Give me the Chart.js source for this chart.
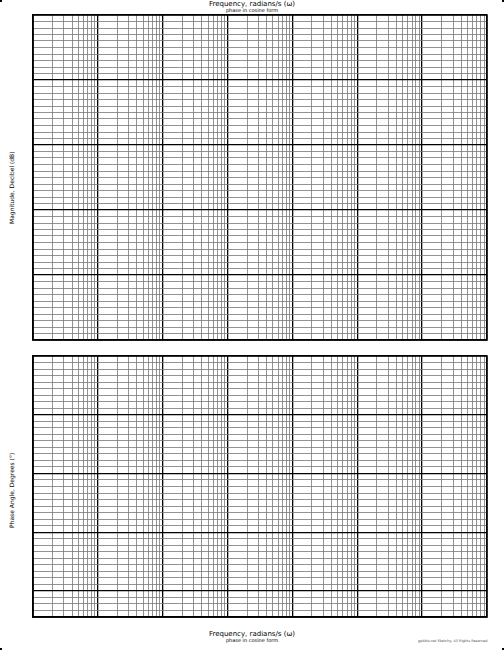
<!DOCTYPE html>
<html><head><meta charset="utf-8">
<script src="https://cdn.jsdelivr.net/npm/chart.js@4/dist/chart.umd.min.js"></script>
<style>
body{margin:0;width:504px;height:650px;position:relative;background:#fff;font-family:"DejaVu Sans",sans-serif;overflow:hidden}
canvas{position:absolute;left:0}
.t{position:absolute;width:100%;text-align:center;color:#000}
.t1{font-size:7px}.t2{font-size:5px}
.v{position:absolute;font-size:6px;transform:rotate(-90deg);transform-origin:left top;white-space:nowrap}
</style></head><body>
<div class="t t1" style="top:0px">Frequency, radians/s (ω)</div>
<div class="t t2" style="top:7px">phase in cosine form</div>
<div class="t t1" style="top:630px">Frequency, radians/s (ω)</div>
<div class="t t2" style="top:637px">phase in cosine form</div>
<div class="v" style="left:8px;top:224px">Magnitude, Decibel (dB)</div>
<div class="v" style="left:8px;top:528px">Phase Angle, Degrees (°)</div>
<div style="position:absolute;left:418px;top:639px;font-size:3.5px;color:#555">gpkbls.net Sketchy, All Rights Reserved</div>
<div style="position:absolute;left:0;top:0;width:2px;height:2px;background:#000"></div>
<div style="position:absolute;right:0;top:0;width:2px;height:2px;background:#000"></div>
<div style="position:absolute;left:0;bottom:0;width:2px;height:2px;background:#000"></div>
<div style="position:absolute;right:0;bottom:0;width:2px;height:2px;background:#000"></div>
<canvas id="mag" style="top:0"></canvas>
<canvas id="phase" style="top:348px"></canvas>
<script>
//周波数範囲(7デケード)
var FREQ_MIN = 0.001;
var FREQ_MAX = 10000;
//ゲイン軸 dB
var MAG_MIN = -100, MAG_MAX = 0, MAG_STEP = 2, MAG_MAJOR = 20;
//位相軸 度
var PHASE_MIN = -200, PHASE_MAX = 0, PHASE_STEP = 5, PHASE_MAJOR = 45;

//対数グリッド位置 1..9 x 10^n
function LogTicks(){
  var res = [];
  for (let d = FREQ_MIN; d < FREQ_MAX * 0.999; d *= 10){
    for (let m = 1; m < 10; m++) res.push({value: d * m, major: m == 1});
  }
  res.push({value: FREQ_MAX, major: true});
  return res;
}
function LinTicks(min,max,step){
  var res = [];
  for (let v = min; v <= max + 1e-9; v += step) res.push({value: v});
  return res;
}

function MakeChart(id,h,pad,ymin,ymax,ystep,ymajor){
  var cv = document.getElementById(id);
  cv.width = 504; cv.height = h;
  cv.style.width = '504px'; cv.style.height = h + 'px';
  return new Chart(cv, {
    type: 'line',
    data: {datasets: [{data: [], showLine: false}]},
    options: {
      responsive: false, animation: false,
      layout: {padding: pad},
      plugins: {legend: {display: false}, tooltip: {enabled: false}},
      scales: {
        x: {
          type: 'logarithmic', min: FREQ_MIN, max: FREQ_MAX,
          afterBuildTicks: function(s){ s.ticks = LogTicks(); },
          ticks: {display: false},
          border: {color: '#000', width: 1.5},
          grid: {
            drawTicks: false,
            color: function(c){ return c.tick && c.tick.major ? '#000' : '#777'; },
            lineWidth: function(c){ return c.tick && c.tick.major ? 1.3 : 0.8; }
          }
        },
        y: {
          type: 'linear', min: ymin, max: ymax,
          afterBuildTicks: function(s){ s.ticks = LinTicks(ymin,ymax,ystep); },
          ticks: {display: false},
          border: {color: '#000', width: 1.5},
          grid: {
            drawTicks: false,
            color: function(c){ return c.tick && Math.abs(c.tick.value % ymajor) < 1e-6 ? '#000' : '#777'; },
            lineWidth: function(c){ return c.tick && Math.abs(c.tick.value % ymajor) < 1e-6 ? 1.3 : 0.8; }
          }
        }
      }
    },
    plugins: [{
      id: 'frame',
      afterDraw: function(ch){
        var a = ch.chartArea, g = ch.ctx;
        g.save(); g.strokeStyle = '#000'; g.lineWidth = 1.5;
        g.strokeRect(a.left, a.top, a.right - a.left, a.bottom - a.top);
        g.restore();
      }
    }]
  });
}

MakeChart('mag', 348, {left: 33, right: 17, top: 15, bottom: 8}, MAG_MIN, MAG_MAX, MAG_STEP, MAG_MAJOR);
MakeChart('phase', 280, {left: 33, right: 17, top: 8, bottom: 11}, PHASE_MIN, PHASE_MAX, PHASE_STEP, PHASE_MAJOR);
</script>
</body></html>
